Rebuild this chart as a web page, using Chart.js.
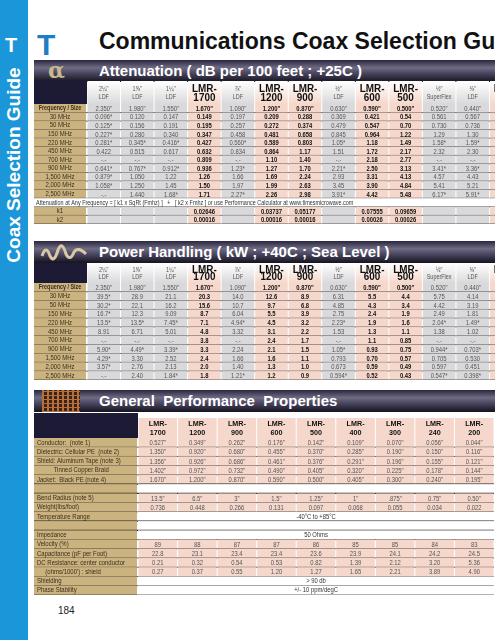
<!DOCTYPE html>
<html lang="en">
<head>
<meta charset="UTF-8" />
<title>Communications Coax Selection Guide</title>
<script src="https://cdn.jsdelivr.net/npm/chart.js"></script>
<style>
  body { margin: 0; width: 495px; height: 640px; overflow: hidden; position: relative; background: #fff; font-family: "Liberation Sans", Arial, sans-serif; }
  .side { position: absolute; left: 0; top: 0; width: 28px; height: 640px; background: #1b96d8; }
  .side .txt { position: absolute; left: 14px; top: 165px; transform: translate(-50%, -50%) rotate(-90deg); white-space: nowrap; color: #fff; font-weight: bold; font-size: 19px; }
  .side .logo { position: absolute; left: 5px; top: 34px; color: #fff; font-weight: bold; font-size: 20px; }
  .logo2 { position: absolute; left: 37px; top: 28px; color: #1b7fc4; font-weight: bold; font-size: 30px; }
  h1 { position: absolute; left: 99px; top: 28px; margin: 0; font-size: 23px; white-space: nowrap; color: #111; }
  .banner { position: absolute; left: 34px; width: 470px; height: 22px; color: #fff; font-weight: bold; font-size: 15px;
    background: linear-gradient(to bottom, #2a2640 0%, #6f6b82 35%, #4a4660 60%, #15131f 100%); }
  .banner span { position: absolute; left: 65px; top: 2px; white-space: nowrap; }
  .banner .ic { position: absolute; left: 14px; top: -3px; font-size: 22px; color: #c9b88e; font-family: "DejaVu Serif", serif; }
  .grid { position: absolute; left: 8px; top: 0; width: 38px; height: 22px;
    background: repeating-linear-gradient(90deg, #b5703a 0 2px, transparent 2px 5px), repeating-linear-gradient(0deg, #b5703a 0 1px, #3a2218 1px 4px); }
  canvas { position: absolute; }
  .page { position: absolute; left: 58px; top: 605px; font-size: 10px; color: #222; }
</style>
</head>
<body>
<div class="side"><div class="logo">T</div><div class="txt">Coax Selection Guide</div></div>
<div class="logo2">T</div>
<h1>Communications Coax Selection Guide</h1>

<div class="banner" style="top:60px"><div class="ic">α</div><span>Attenuation ( dB per 100 feet ; +25C )</span></div>
<canvas id="attn" width="489" height="143" style="left:34px;top:81px"></canvas>

<div class="banner" style="top:241px"><svg style="position:absolute;left:6px;top:1px" width="48" height="20"><path d="M2 14 Q6 2 10 14 Q14 22 18 8 Q22 -2 26 12 Q30 20 34 10 Q38 4 46 12" stroke="#d9c7a6" stroke-width="3" fill="none"/></svg><span>Power Handling ( kW ; +40C ; Sea Level )</span></div>
<canvas id="power" width="489" height="117" style="left:34px;top:263px"></canvas>

<div class="banner" style="top:390px"><div class="grid"></div><span>General&nbsp; Performance&nbsp; Properties</span></div>
<canvas id="general" width="460" height="182" style="left:34px;top:413px"></canvas>

<div class="page">184</div>

<script>
const cableCols = ['2¼"|LDF', '1⅝"|LDF', '1¼"|LDF', 'LMR-|1700', '⅞"|LDF', 'LMR-|1200', 'LMR-|900', '½"|LDF', 'LMR-|600', 'LMR-|500', '½"|SuperFlex', '⅜"|LDF', 'LMR-|400'];
const sizeRow = ['2.350"', '1.980"', '1.550"', '1.670"', '1.090"', '1.200"', '0.870"', '0.630"', '0.590"', '0.500"', '0.520"', '0.440"', ''];
const freqLabels = ['30 MHz', '50 MHz', '150 MHz', '220 MHz', '450 MHz', '700 MHz', '900 MHz', '1,500 MHz', '2,000 MHz', '2,500 MHz'];

const attenValues = [
  ['0.096*', '0.120', '0.147', '0.149', '0.197', '0.209', '0.288', '0.369', '0.421', '0.54', '0.561', '0.567', ''],
  ['0.125*', '0.156', '0.191', '0.195', '0.257', '0.272', '0.374', '0.479', '0.547', '0.70', '0.730', '0.736', ''],
  ['0.227*', '0.280', '0.340', '0.347', '0.458', '0.481', '0.658', '0.845', '0.964', '1.22', '1.29', '1.30', ''],
  ['0.281*', '0.345*', '0.416*', '0.427', '0.560*', '0.589', '0.803', '1.05*', '1.18', '1.49', '1.58*', '1.59*', ''],
  ['0.422', '0.515', '0.617', '0.632', '0.834', '0.864', '1.17', '1.51', '1.72', '2.17', '2.32', '2.30', ''],
  ['-.-', '-.-', '-.-', '0.809', '-.-', '1.10', '1.40', '-.-', '2.18', '2.77', '-.-', '-.-', ''],
  ['0.641*', '0.767*', '0.912*', '0.936', '1.23*', '1.27', '1.70', '2.21*', '2.50', '3.13', '3.41*', '3.36*', ''],
  ['0.879*', '1.050', '1.22', '1.26', '1.66', '1.69', '2.24', '2.93', '3.31', '4.13', '4.57', '4.43', ''],
  ['1.058*', '1.250', '1.45', '1.50', '1.97', '1.99', '2.63', '3.45', '3.90', '4.84', '5.41', '5.21', ''],
  ['-.-', '1.440', '1.68*', '1.71', '2.27*', '2.26', '2.98', '3.91*', '4.42', '5.48', '6.17*', '5.91*', '']
];
const k1Row = ['', '', '', '0.02646', '', '0.03737', '0.05177', '', '0.07555', '0.09659', '', '', ''];
const k2Row = ['', '', '', '0.00016', '', '0.00016', '0.00016', '', '0.00026', '0.00026', '', '', ''];
const attenNote = 'Attenuation at Any Frequency = [ k1 x SqRt (Fmhz) ]   +   [ k2 x Fmhz ] or use Performance Calculator at www.timesmicrowave.com';

const powerValues = [
  ['39.5*', '28.9', '21.1', '20.3', '14.0', '12.6', '8.9', '6.31', '5.5', '4.4', '5.75', '4.14', ''],
  ['30.2*', '22.1', '16.2', '15.6', '10.7', '9.7', '6.8', '4.85', '4.3', '3.4', '4.42', '3.19', ''],
  ['16.7*', '12.3', '9.09', '8.7', '6.04', '5.5', '3.9', '2.75', '2.4', '1.9', '2.49', '1.81', ''],
  ['13.5*', '13.5*', '7.45*', '7.1', '4.94*', '4.5', '3.2', '2.23*', '1.9', '1.6', '2.04*', '1.49*', ''],
  ['8.91', '6.71', '5.01', '4.8', '3.32', '3.1', '2.2', '1.53', '1.3', '1.1', '1.38', '1.02', ''],
  ['-.-', '-.-', '-.-', '3.8', '-.-', '2.4', '1.7', '-.-', '1.1', '0.85', '-.-', '-.-', ''],
  ['5.90*', '4.49*', '3.39*', '3.3', '2.24', '2.1', '1.5', '1.05*', '0.93', '0.75', '0.944*', '0.703*', ''],
  ['4.29*', '3.30', '2.52', '2.4', '1.66', '1.6', '1.1', '0.793', '0.70', '0.57', '0.705', '0.530', ''],
  ['3.57*', '2.76', '2.13', '2.0', '1.40', '1.3', '1.0', '0.673', '0.59', '0.49', '0.597', '0.451', ''],
  ['-.-', '2.40', '1.84*', '1.8', '1.21*', '1.2', '0.9', '0.594*', '0.52', '0.43', '0.547*', '0.398*', '']
];

const lmrCols = ['LMR-|1700', 'LMR-|1200', 'LMR-|900', 'LMR-|600', 'LMR-|500', 'LMR-|400', 'LMR-|300', 'LMR-|240', 'LMR-|200'];
const propLabels = ['Conductor:  (note 1)', 'Dielectric: Cellular PE  (note 2)', 'Shield: Aluminum Tape (note 3)', '          Tinned Copper Braid', 'Jacket:  Black PE (note 4)', '',
  'Bend Radius (note 5)', 'Weight(lbs/foot)', 'Temperature Range', '', 'Impedance', 'Velocity (%)', 'Capacitance (pF per Foot)',
  'DC Resistance: center conductor', '     (ohms/1000\') : shield', 'Shielding', 'Phase Stability'];
const propValues = [
  ['0.527"', '0.349"', '0.262"', '0.176"', '0.142"', '0.109"', '0.070"', '0.056"', '0.044"'],
  ['1.350"', '0.920"', '0.680"', '0.455"', '0.370"', '0.285"', '0.190"', '0.150"', '0.116"'],
  ['1.356"', '0.926"', '0.686"', '0.461"', '0.376"', '0.291"', '0.196"', '0.155"', '0.121"'],
  ['1.402"', '0.972"', '0.732"', '0.490"', '0.405"', '0.320"', '0.225"', '0.178"', '0.144"'],
  ['1.670"', '1.200"', '0.870"', '0.590"', '0.500"', '0.405"', '0.300"', '0.240"', '0.195"'],
  null,
  ['13.5"', '6.5"', '3"', '1.5"', '1.25"', '1"', '.875"', '0.75"', '0.50"'],
  ['0.736', '0.448', '0.266', '0.131', '0.097', '0.068', '0.055', '0.034', '0.022'],
  '-40°C to +85°C',
  null,
  '50 Ohms',
  ['89', '88', '87', '87', '86', '85', '85', '84', '83'],
  ['22.8', '23.1', '23.4', '23.4', '23.6', '23.9', '24.1', '24.2', '24.5'],
  ['0.21', '0.32', '0.54', '0.53', '0.82', '1.39', '2.12', '3.20', '5.36'],
  ['0.27', '0.37', '0.55', '1.20', '1.27', '1.65', '2.21', '3.89', '4.90'],
  '> 90 db',
  '+/- 10 ppm/degC'
];

const GOLD = '#cbb37f', GREY = '#d9d9db', PINK = '#f5d8cb', NAVY = '#1c1a34';
const FONT = '"Liberation Sans", Arial, sans-serif';

// narrow text: squeeze horizontally, the printed table uses a condensed face
function ntext(ctx, s, x, y, sx) {
  ctx.save();
  ctx.translate(x, y);
  ctx.scale(sx || 0.78, 1);
  ctx.fillText(s, 0, 0);
  ctx.restore();
}

// rows: {label, bold, cells (array) | span (string) | note (string) | blank}
function tableChart(id, cols, rows, labelW, headerH, plainHeader) {
  const drawTable = {
    id: 'drawTable',
    beforeDraw(chart) {
      const ctx = chart.ctx, xs = chart.scales.x, ys = chart.scales.y, ca = chart.chartArea;
      const hw = (xs.getPixelForValue(1) - xs.getPixelForValue(0)) / 2;
      const rh = Math.abs(ys.getPixelForValue(1) - ys.getPixelForValue(0));
      ctx.save();
      ctx.textBaseline = 'middle';
      // header
      ctx.fillStyle = NAVY;
      ctx.fillRect(0, 0, ca.left, ca.top);
      cols.forEach((c, j) => {
        const xc = xs.getPixelForValue(j);
        const [a, b] = c.split('|');
        const lmr = a === 'LMR-';
        const g = ctx.createLinearGradient(0, 0, 0, ca.top);
        g.addColorStop(0, '#fff'); g.addColorStop(1, lmr ? PINK : GREY);
        ctx.fillStyle = plainHeader ? PINK : g;
        ctx.fillRect(xc - hw + 0.5, plainHeader ? 5 : 0, 2 * hw - 1, ca.top - (plainHeader ? 5 : 0));
        ctx.textAlign = 'center';
        if (lmr) {
          ctx.fillStyle = '#111';
          ctx.font = plainHeader ? 'bold 8px ' + FONT : 'bold 11px ' + FONT;
          ntext(ctx, a, xc, ca.top * (plainHeader ? 0.42 : 0.33), 0.9);
          ntext(ctx, b, xc, ca.top * (plainHeader ? 0.8 : 0.72), 0.9);
        } else {
          ctx.fillStyle = '#555';
          ctx.font = '7px ' + FONT;
          ntext(ctx, a, xc, ca.top * 0.35);
          ntext(ctx, b, xc, ca.top * 0.72);
        }
      });
      // body
      rows.forEach((r, i) => {
        const yc = ys.getPixelForValue(i), top = yc - rh / 2;
        if (r.note !== undefined) {
          ctx.fillStyle = '#fff';
          ctx.fillRect(0, top, chart.width, rh);
          ctx.fillStyle = '#333'; ctx.textAlign = 'left';
          ctx.font = '7px ' + FONT;
          ntext(ctx, r.note, 2, yc);
        } else {
          ctx.fillStyle = GOLD;
          ctx.fillRect(0, top, ca.left - 1, rh);
          ctx.fillStyle = '#3b2f1c';
          ctx.font = (r.bold ? 'bold ' : '') + '7.5px ' + FONT;
          ctx.textAlign = plainHeader ? 'left' : 'center';
          ntext(ctx, r.label, plainHeader ? 3 : (ca.left - 1) / 2, yc, r.bold ? 0.72 : 0.8);
          if (r.span !== undefined || r.blank) {
            ctx.fillStyle = '#fff';
            ctx.fillRect(ca.left, top, ca.right - ca.left, rh);
            ctx.fillStyle = '#333'; ctx.textAlign = 'center';
            ctx.font = '7.5px ' + FONT;
            if (r.span) ntext(ctx, r.span, (ca.left + ca.right) / 2, yc);
          } else {
            r.cells.forEach((v, j) => {
              const xc = xs.getPixelForValue(j);
              const lmr = cols[j].startsWith('LMR-');
              ctx.fillStyle = lmr ? PINK : GREY;
              ctx.fillRect(xc - hw + 0.5, top, 2 * hw - 1, rh);
              ctx.fillStyle = lmr && !plainHeader ? '#111' : '#555';
              ctx.font = (lmr && !plainHeader ? 'bold ' : '') + '7.5px ' + FONT;
              ctx.textAlign = 'center';
              ntext(ctx, v, xc, yc + 0.5);
            });
          }
        }
        ctx.strokeStyle = '#222';
        ctx.lineWidth = (r.blank || (rows[i + 1] && rows[i + 1].blank)) ? 1.2 : 0.7;
        ctx.beginPath(); ctx.moveTo(0, top + rh); ctx.lineTo(chart.width, top + rh); ctx.stroke();
      });
      ctx.restore();
    }
  };
  return new Chart(document.getElementById(id), {
    type: 'scatter',
    data: { datasets: [] },
    options: {
      responsive: false, animation: false, events: [],
      layout: { padding: { left: labelW, top: headerH, right: 0, bottom: 0 } },
      plugins: { legend: { display: false }, tooltip: { enabled: false } },
      scales: {
        x: { type: 'category', labels: cols, offset: true, display: false },
        y: { type: 'category', labels: rows.map((r, i) => String(i)), offset: true, display: false }
      }
    },
    plugins: [drawTable]
  });
}

const freqRows = vals => [{ label: 'Frequency / Size', bold: true, cells: sizeRow }]
  .concat(vals.map((v, i) => ({ label: freqLabels[i], cells: v })));

tableChart('attn', cableCols,
  freqRows(attenValues).concat([{ note: attenNote }, { label: 'k1', cells: k1Row }, { label: 'k2', cells: k2Row }]),
  53, 23, false);

tableChart('power', cableCols, freqRows(powerValues), 53, 20, false);

tableChart('general', lmrCols,
  propLabels.map((l, i) => {
    const v = propValues[i];
    if (v === null) return { label: l, blank: true };
    if (typeof v === 'string') return { label: l, span: v };
    return { label: l, cells: v };
  }),
  104, 25, true);
</script>
</body>
</html>
